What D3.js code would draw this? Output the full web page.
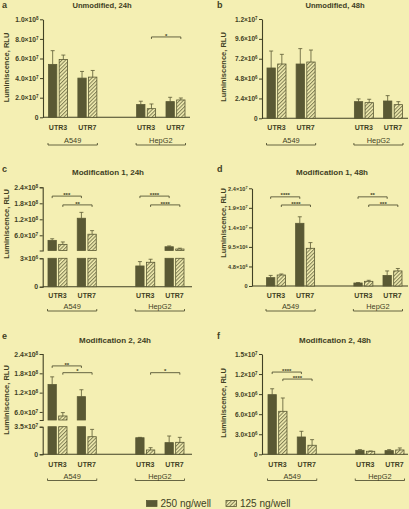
<!DOCTYPE html>
<html>
<head>
<meta charset="utf-8">
<script src="https://cdn.jsdelivr.net/npm/d3@7"></script>
<style>
  html, body { margin: 0; padding: 0; background: #f4efb3; }
  svg { display: block; font-family: "Liberation Sans", Arial, sans-serif; }
</style>
</head>
<body>
<svg id="fig" width="409" height="509"></svg>
<script>
const cellLines = ['A549', 'HepG2'];
const utrs = ['UTR3', 'UTR7'];
const doses = ['250 ng/well', '125 ng/well'];
const panelLetters = ['a', 'b', 'c', 'd', 'e', 'f'];
const panelTitles = ['Unmodified, 24h', 'Unmodified, 48h', 'Modification 1, 24h',
                     'Modification 1, 48h', 'Modification 2, 24h', 'Modification 2, 48h'];
const yTitle = 'Luminiscence, RLU';

// bar order: A549 UTR3 (250, 125), A549 UTR7 (250, 125), HepG2 UTR3 (250, 125), HepG2 UTR7 (250, 125)
const meansA = [5.4e7, 5.9e7, 4.0e7, 4.1e7, 1.3e7, 0.88e7, 1.6e7, 1.77e7];
const errsA  = [1.4e7, 0.45e7, 0.68e7, 0.68e7, 0.34e7, 0.48e7, 0.44e7, 0.2e7];
const meansB = [6.08e6, 6.56e6, 6.56e6, 6.8e6, 2.01e6, 1.89e6, 2.09e6, 1.65e6];
const errsB  = [2.05e6, 1.17e6, 1.86e6, 1.45e6, 0.33e6, 0.41e6, 0.65e6, 0.36e6];
const meansC = [4.1e7, 2.6e7, 1.24e8, 6.4e7, 2.19e6, 2.58e6, 1.7e7, 8.6e6];
const errsC  = [0.6e7, 0.9e7, 2.2e7, 1.35e7, 0.46e6, 0.32e6, 0.3e7, 0.3e7];
const meansD = [2.05e6, 2.7e6, 1.54e7, 9.26e6, 7.4e5, 1.15e6, 2.6e6, 3.7e6];
const errsD  = [0.55e6, 0.25e6, 1.6e6, 1.4e6, 0.1e6, 0.25e6, 1.1e6, 0.6e6];
const meansE = [1.45e8, 4.75e7, 1.075e8, 2.23e7, 2.1e7, 5.5e6, 1.48e7, 1.52e7];
const errsE  = [2.4e7, 1.05e7, 2.15e7, 0.93e7, 0.05e7, 2.9e6, 0.84e7, 0.63e7];
const meansF = [8.92e6, 6.43e6, 2.59e6, 1.35e6, 6e5, 4.5e5, 5.5e5, 6.5e5];
const errsF  = [0.88e6, 1.99e6, 0.85e6, 0.84e6, 1e5, 0.5e5, 1.5e5, 3e5];

const ticksA = [0, 2e7, 4e7, 6e7, 8e7, 1e8];
const tickLabelsA = ['0', '2.0×10^7', '4.0×10^7', '6.0×10^7', '8.0×10^7', '1.0×10^8'];
const ticksB = [0, 2.4e6, 4.8e6, 7.2e6, 9.6e6, 1.2e7];
const tickLabelsB = ['0', '2.4×10^6', '4.8×10^6', '7.2×10^6', '9.6×10^6', '1.2×10^7'];
const ticksCLow = [0, 3e6];
const tickLabelsCLow = ['0', '3×10^6'];
const ticksUp = [6e7, 1.2e8, 1.8e8, 2.4e8];
const tickLabelsUp = ['6.0×10^7', '1.2×10^8', '1.8×10^8', '2.4×10^8'];
const ticksD = [0, 4.8e6, 9.6e6, 1.44e7, 1.92e7, 2.4e7];
const tickLabelsD = ['0', '4.8×10^6', '9.5×10^6', '1.4×10^7', '1.9×10^7', '2.4×10^7'];
const ticksELow = [0, 3.5e7];
const tickLabelsELow = ['0', '3.5×10^7'];
const ticksF = [0, 3e6, 6e6, 9e6, 1.2e7, 1.5e7];
const tickLabelsF = ['0', '3.0×10^6', '6.0×10^6', '9.0×10^6', '1.2×10^7', '1.5×10^7'];

// significance brackets: [fromBar, toBar, height, stars]
const sigA = [[5, 7, 8.2e7, '*']];
const sigB = [];
const sigC = [[0, 2, 2.07e8, '***'], [1, 3, 1.74e8, '**'], [4, 6, 2.07e8, '****'], [5, 7, 1.74e8, '****']];
const sigD = [[0, 2, 2.19e7, '****'], [1, 3, 1.99e7, '****'], [4, 6, 2.19e7, '**'], [5, 7, 1.99e7, '***']];
const sigE = [[0, 2, 2.03e8, '**'], [1, 3, 1.82e8, '*'], [5, 7, 1.82e8, '*']];
const sigF = [[0, 2, 1.23e7, '****'], [1, 3, 1.125e7, '****']];

const ink = '#414124';
const barDark = '#5a5934';
const bg = '#f4efb3';

let panels = [
    {means: meansA, errs: errsA, ticks: ticksA, labels: tickLabelsA, sig: sigA},
    {means: meansB, errs: errsB, ticks: ticksB, labels: tickLabelsB, sig: sigB},
    {means: meansC, errs: errsC, ticks: ticksCLow, labels: tickLabelsCLow, sig: sigC,
     upTicks: ticksUp, upLabels: tickLabelsUp},
    {means: meansD, errs: errsD, ticks: ticksD, labels: tickLabelsD, sig: sigD},
    {means: meansE, errs: errsE, ticks: ticksELow, labels: tickLabelsELow, sig: sigE,
     upTicks: ticksUp, upLabels: tickLabelsUp},
    {means: meansF, errs: errsF, ticks: ticksF, labels: tickLabelsF, sig: sigF}
];

let rows = [
    {titleY: 8, letterY: 8, titleSize: 7.6, catY: 130, groupY: 143, brkY: 145},
    {titleY: 174.5, letterY: 172, titleSize: 8, catY: 298, groupY: 309, brkY: 311},
    {titleY: 343, letterY: 339, titleSize: 8, catY: 467, groupY: 478.5, brkY: 480.5}
];

let layout = [
    {axisX: 43, yZero: 117.3, yTop: 19.3, cx: [58, 175.5], xEnd: 190, titleX: 102, letterX: 2, ylabX: 6.5, ylabY: 67.5, row: 0, tickFont: 6.7},
    {axisX: 262, yZero: 118.3, yTop: 19, cx: [276.5, 393], xEnd: 408, titleX: 335, letterX: 217, ylabX: 223, ylabY: 67, row: 0, tickFont: 6.5},
    {axisX: 42.7, yZero: 286.7, yBreakLow: 258.3, yBreakUp: 250.5, yTop: 187.3, cx: [57.5, 174.5], xEnd: 192, titleX: 108, letterX: 2, ylabX: 6.5, ylabY: 224, row: 1, tickFont: 6.9},
    {axisX: 252, yZero: 286, yTop: 188.3, cx: [276, 392.5], xEnd: 408, titleX: 332, letterX: 217, ylabX: 223, ylabY: 223, row: 1, tickFont: 5.6},
    {axisX: 42.7, yZero: 454.3, yBreakLow: 426.7, yBreakUp: 420, yTop: 354, cx: [57.5, 174.5], xEnd: 192, titleX: 115, letterX: 2, ylabX: 6.5, ylabY: 400, row: 2, tickFont: 6.9},
    {axisX: 262, yZero: 454.3, yTop: 354, cx: [277.5, 394.5], xEnd: 408, titleX: 335, letterX: 217, ylabX: 223, ylabY: 403, row: 2, tickFont: 6.5}
];

let svg = d3.select('#fig');
svg.append('rect').attr('width', 409).attr('height', 509).attr('fill', bg);

svg.append('defs').append('pattern')
    .attr('id', 'hatch')
    .attr('patternUnits', 'userSpaceOnUse')
    .attr('width', 2.6).attr('height', 2.6)
    .attr('patternTransform', 'rotate(45)')
    .call(p => p.append('rect').attr('width', 2.6).attr('height', 2.6).attr('fill', bg))
    .append('line')
    .attr('x1', 0.6).attr('y1', 0).attr('x2', 0.6).attr('y2', 2.6)
    .attr('stroke', barDark).attr('stroke-width', 0.8);

let slotKeys = [`${cellLines[0]}|${utrs[0]}`, `${cellLines[0]}|${utrs[1]}`, 'gap',
                `${cellLines[1]}|${utrs[0]}`, `${cellLines[1]}|${utrs[1]}`];

function supText(sel, values, labels) {
    sel.selectAll('.tick text').each(function(d) {
        let parts = labels[values.indexOf(d)].split('^');
        let t = d3.select(this).text(parts[0]);
        if (parts[1]) {
            t.append('tspan').attr('dy', '-0.45em').attr('font-size', '0.68em').text(parts[1]);
        }
    });
}

function styleAxis(g, fontSize) {
    g.select('.domain').attr('stroke', ink).attr('stroke-width', 1.1);
    g.selectAll('.tick line').attr('stroke', ink).attr('stroke-width', 1);
    g.selectAll('.tick text')
        .attr('fill', ink)
        .attr('font-size', fontSize)
        .attr('font-weight', 'bold')
        .attr('font-family', '"Liberation Sans", Arial, sans-serif');
}

panels.forEach((p, pi) => {
    let L = layout[pi];
    let R = rows[L.row];
    let g = svg.append('g');

    let xSlot = d3.scalePoint().domain(slotKeys).range(L.cx);
    let xDose = d3.scaleBand().domain(doses).range([-9.5, 9.5]).paddingInner(0.22);
    let lowMax = p.ticks[p.ticks.length - 1];
    let broken = !!p.upTicks;

    let yLow = d3.scaleLinear().domain([0, lowMax]).range([L.yZero, broken ? L.yBreakLow : L.yTop]);
    let yUp = broken ? d3.scaleLinear()
        .domain([lowMax, p.upTicks[p.upTicks.length - 1]])
        .range([L.yBreakUp, L.yTop]) : null;
    let y = v => (broken && v > lowMax) ? yUp(v) : yLow(v);

    let bars = p.means.map((m, i) => {
        let slot = [0, 1, 3, 4][Math.floor(i / 2)];
        return {
            key: slotKeys[slot],
            dose: doses[i % 2],
            mean: m,
            err: p.errs[i],
            x: xSlot(slotKeys[slot]) + xDose(doses[i % 2])
        };
    });
    let bw = xDose.bandwidth();

    // axes
    let axLow = d3.axisLeft(yLow).tickValues(p.ticks).tickSize(3).tickSizeOuter(broken ? 3 : 0).tickPadding(1.5);
    let gLow = g.append('g').attr('transform', `translate(${L.axisX},0)`).call(axLow);
    styleAxis(gLow, L.tickFont);
    supText(gLow, p.ticks, p.labels);

    if (broken) {
        let axUp = d3.axisLeft(yUp).tickValues(p.upTicks).tickSize(3).tickSizeOuter(3).tickPadding(1.5);
        let gUp = g.append('g').attr('transform', `translate(${L.axisX},0)`).call(axUp);
        styleAxis(gUp, L.tickFont);
        supText(gUp, p.upTicks, p.upLabels);
    }

    g.append('line')
        .attr('x1', L.axisX).attr('x2', L.xEnd)
        .attr('y1', yLow(0)).attr('y2', yLow(0))
        .attr('stroke', ink).attr('stroke-width', 1.1);

    // bars (lower piece + upper piece when axis is broken)
    let fillFor = d => d.dose === doses[0] ? barDark : 'url(#hatch)';
    g.selectAll('.bar-low')
        .data(bars)
        .enter()
        .append('rect')
        .classed('bar-low', true)
        .attr('x', d => d.x).attr('width', bw)
        .attr('y', d => yLow(Math.min(d.mean, lowMax)))
        .attr('height', d => yLow(0) - yLow(Math.min(d.mean, lowMax)))
        .attr('fill', fillFor)
        .attr('stroke', barDark).attr('stroke-width', 0.8);

    if (broken) {
        g.selectAll('.bar-up')
            .data(bars.filter(d => d.mean > lowMax))
            .enter()
            .append('rect')
            .classed('bar-up', true)
            .attr('x', d => d.x).attr('width', bw)
            .attr('y', d => yUp(d.mean))
            .attr('height', d => yUp(lowMax) - yUp(d.mean))
            .attr('fill', fillFor)
            .attr('stroke', barDark).attr('stroke-width', 0.8);
    }

    // error bars, upper side only
    let eb = g.selectAll('.err')
        .data(bars)
        .enter()
        .append('g')
        .classed('err', true);
    eb.append('line')
        .attr('x1', d => d.x + bw / 2).attr('x2', d => d.x + bw / 2)
        .attr('y1', d => y(d.mean)).attr('y2', d => y(d.mean + d.err))
        .attr('stroke', barDark).attr('stroke-width', 0.8);
    eb.append('line')
        .attr('x1', d => d.x + bw / 2 - 2).attr('x2', d => d.x + bw / 2 + 2)
        .attr('y1', d => y(d.mean + d.err)).attr('y2', d => y(d.mean + d.err))
        .attr('stroke', barDark).attr('stroke-width', 0.8);

    // significance brackets
    p.sig.forEach(s => {
        let x1 = bars[s[0]].x + bw / 2;
        let x2 = bars[s[1]].x + bw / 2;
        let yy = y(s[2]);
        g.append('path')
            .attr('d', `M${x1},${yy + 2}V${yy}H${x2}V${yy + 2}`)
            .attr('fill', 'none').attr('stroke', ink).attr('stroke-width', 0.8);
        g.append('text')
            .attr('x', (x1 + x2) / 2).attr('y', yy + 0.6)
            .attr('text-anchor', 'middle')
            .attr('font-size', 6).attr('font-weight', 'bold')
            .attr('fill', ink)
            .text(s[3]);
    });

    // category labels
    g.selectAll('.cat')
        .data(slotKeys.filter(k => k !== 'gap'))
        .enter()
        .append('text')
        .attr('x', k => xSlot(k)).attr('y', R.catY)
        .attr('text-anchor', 'middle')
        .attr('font-size', 7).attr('font-weight', 'bold')
        .attr('fill', ink)
        .text(k => k.split('|')[1]);

    // group brackets
    cellLines.forEach((c, ci) => {
        let xa = xSlot(slotKeys[ci * 3]) - 10;
        let xb = xSlot(slotKeys[ci * 3 + 1]) + 10;
        g.append('path')
            .attr('d', `M${xa},${R.brkY - 2}V${R.brkY}H${xb}V${R.brkY - 2}`)
            .attr('fill', 'none').attr('stroke', ink).attr('stroke-width', 0.8);
        g.append('text')
            .attr('x', (xa + xb) / 2).attr('y', R.groupY)
            .attr('text-anchor', 'middle')
            .attr('font-size', 7.4)
            .attr('fill', ink)
            .text(c);
    });

    // titles
    g.append('text')
        .attr('x', L.titleX).attr('y', R.titleY)
        .attr('text-anchor', 'middle')
        .attr('font-size', R.titleSize).attr('font-weight', 'bold')
        .attr('fill', ink)
        .text(panelTitles[pi]);
    g.append('text')
        .attr('x', L.letterX).attr('y', R.letterY)
        .attr('font-size', 9).attr('font-weight', 'bold')
        .attr('fill', ink)
        .text(panelLetters[pi]);
    g.append('text')
        .attr('transform', `translate(${L.ylabX},${L.ylabY}) rotate(-90)`)
        .attr('text-anchor', 'middle')
        .attr('dominant-baseline', 'central')
        .attr('font-size', 7.5).attr('font-weight', 'bold')
        .attr('fill', ink)
        .text(yTitle);
});

// legend
let legend = svg.append('g').attr('transform', 'translate(146.5,500.5)');
let legendX = d3.scalePoint().domain(doses).range([0, 79.5]);
legend.selectAll('rect')
    .data(doses)
    .enter()
    .append('rect')
    .attr('x', d => legendX(d)).attr('y', 0)
    .attr('width', 10.5).attr('height', 6)
    .attr('fill', (d, i) => i === 0 ? barDark : 'url(#hatch)')
    .attr('stroke', barDark).attr('stroke-width', 0.8);
legend.selectAll('text')
    .data(doses)
    .enter()
    .append('text')
    .attr('x', d => legendX(d) + 14).attr('y', 6.7)
    .attr('font-size', 10)
    .attr('fill', ink)
    .text(d => d);
</script>
</body>
</html>
